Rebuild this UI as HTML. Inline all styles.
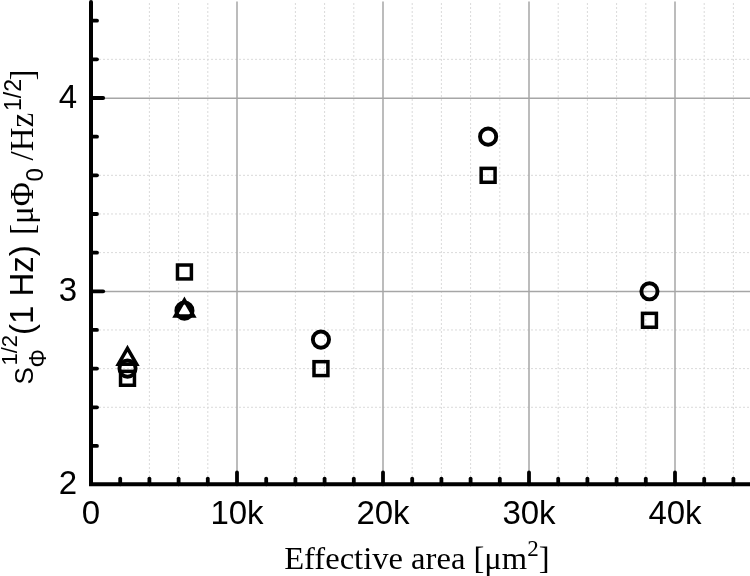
<!DOCTYPE html>
<html><head><meta charset="utf-8"><style>html,body{margin:0;padding:0;background:#fff;}svg{display:block;}</style></head><body>
<svg width="750" height="576" viewBox="0 0 750 576">
<rect width="750" height="576" fill="#fff"/>
<g stroke="#dadada" stroke-width="1" stroke-dasharray="2 2" fill="none"><line x1="149.40" y1="3" x2="149.40" y2="484.3"/><line x1="178.60" y1="3" x2="178.60" y2="484.3"/><line x1="207.80" y1="3" x2="207.80" y2="484.3"/><line x1="295.40" y1="3" x2="295.40" y2="484.3"/><line x1="324.60" y1="3" x2="324.60" y2="484.3"/><line x1="353.80" y1="3" x2="353.80" y2="484.3"/><line x1="412.20" y1="3" x2="412.20" y2="484.3"/><line x1="441.40" y1="3" x2="441.40" y2="484.3"/><line x1="470.60" y1="3" x2="470.60" y2="484.3"/><line x1="499.80" y1="3" x2="499.80" y2="484.3"/><line x1="558.20" y1="3" x2="558.20" y2="484.3"/><line x1="587.40" y1="3" x2="587.40" y2="484.3"/><line x1="616.60" y1="3" x2="616.60" y2="484.3"/><line x1="645.80" y1="3" x2="645.80" y2="484.3"/><line x1="704.20" y1="3" x2="704.20" y2="484.3"/><line x1="733.40" y1="3" x2="733.40" y2="484.3"/><line x1="91.0" y1="407.28" x2="750" y2="407.28"/><line x1="91.0" y1="368.62" x2="750" y2="368.62"/><line x1="91.0" y1="329.96" x2="750" y2="329.96"/><line x1="91.0" y1="252.64" x2="750" y2="252.64"/><line x1="91.0" y1="213.98" x2="750" y2="213.98"/><line x1="91.0" y1="175.32" x2="750" y2="175.32"/><line x1="91.0" y1="59.34" x2="750" y2="59.34"/></g>
<g stroke="#a6a6a6" stroke-width="1.5" fill="none"><line x1="237.0" y1="1.5" x2="237.0" y2="484.3"/><line x1="383.0" y1="1.5" x2="383.0" y2="484.3"/><line x1="529.0" y1="1.5" x2="529.0" y2="484.3"/><line x1="675.0" y1="1.5" x2="675.0" y2="484.3"/><line x1="91.0" y1="291.5" x2="750" y2="291.5"/><line x1="91.0" y1="98.2" x2="750" y2="98.2"/></g>
<g stroke="#000" stroke-width="3.8" stroke-linecap="round" fill="none"><line x1="120.20" y1="484.3" x2="120.20" y2="478.6"/><line x1="149.40" y1="484.3" x2="149.40" y2="478.6"/><line x1="178.60" y1="484.3" x2="178.60" y2="478.6"/><line x1="207.80" y1="484.3" x2="207.80" y2="478.6"/><line x1="237.00" y1="484.3" x2="237.00" y2="472.5"/><line x1="266.20" y1="484.3" x2="266.20" y2="478.6"/><line x1="295.40" y1="484.3" x2="295.40" y2="478.6"/><line x1="324.60" y1="484.3" x2="324.60" y2="478.6"/><line x1="353.80" y1="484.3" x2="353.80" y2="478.6"/><line x1="383.00" y1="484.3" x2="383.00" y2="472.5"/><line x1="412.20" y1="484.3" x2="412.20" y2="478.6"/><line x1="441.40" y1="484.3" x2="441.40" y2="478.6"/><line x1="470.60" y1="484.3" x2="470.60" y2="478.6"/><line x1="499.80" y1="484.3" x2="499.80" y2="478.6"/><line x1="529.00" y1="484.3" x2="529.00" y2="472.5"/><line x1="558.20" y1="484.3" x2="558.20" y2="478.6"/><line x1="587.40" y1="484.3" x2="587.40" y2="478.6"/><line x1="616.60" y1="484.3" x2="616.60" y2="478.6"/><line x1="645.80" y1="484.3" x2="645.80" y2="478.6"/><line x1="675.00" y1="484.3" x2="675.00" y2="472.5"/><line x1="704.20" y1="484.3" x2="704.20" y2="478.6"/><line x1="733.40" y1="484.3" x2="733.40" y2="478.6"/><line x1="91.0" y1="445.94" x2="97.0" y2="445.94"/><line x1="91.0" y1="407.28" x2="97.0" y2="407.28"/><line x1="91.0" y1="368.62" x2="97.0" y2="368.62"/><line x1="91.0" y1="329.96" x2="97.0" y2="329.96"/><line x1="91.0" y1="291.30" x2="103.2" y2="291.30"/><line x1="91.0" y1="252.64" x2="97.0" y2="252.64"/><line x1="91.0" y1="213.98" x2="97.0" y2="213.98"/><line x1="91.0" y1="175.32" x2="97.0" y2="175.32"/><line x1="91.0" y1="136.66" x2="97.0" y2="136.66"/><line x1="91.0" y1="98.00" x2="103.2" y2="98.00"/><line x1="91.0" y1="59.34" x2="97.0" y2="59.34"/><line x1="91.0" y1="20.68" x2="97.0" y2="20.68"/></g>
<path d="M91.0 2 L91.0 484.3 L750 484.3" stroke="#000" stroke-width="4" fill="none" stroke-linecap="round" stroke-linejoin="miter"/>
<g stroke="#000" fill="none" stroke-linejoin="miter"><rect x="120.55" y="371.34" width="13.90" height="13.90" stroke-width="3.5"/><circle cx="127.50" cy="368.62" r="8.1" stroke-width="3.9"/><polygon points="127.50,348.36 136.68,364.26 118.32,364.26" stroke-width="3.5"/><rect x="177.49" y="265.02" width="13.90" height="13.90" stroke-width="3.5"/><circle cx="184.44" cy="310.63" r="8.1" stroke-width="3.9"/><polygon points="184.44,300.03 193.62,315.93 175.26,315.93" stroke-width="3.5"/><rect x="314.00" y="361.67" width="13.90" height="13.90" stroke-width="3.5"/><circle cx="320.95" cy="339.62" r="8.1" stroke-width="3.9"/><rect x="481.17" y="168.37" width="13.90" height="13.90" stroke-width="3.5"/><circle cx="488.12" cy="136.66" r="8.1" stroke-width="3.9"/><rect x="642.50" y="313.34" width="13.90" height="13.90" stroke-width="3.5"/><circle cx="649.45" cy="291.30" r="8.1" stroke-width="3.9"/></g>
<g font-family="Liberation Sans, Arial, sans-serif" font-size="33" fill="#000"><text x="91.0" y="523.5" text-anchor="middle">0</text><text x="237.0" y="523.5" text-anchor="middle">10k</text><text x="383.0" y="523.5" text-anchor="middle">20k</text><text x="529.0" y="523.5" text-anchor="middle">30k</text><text x="675.0" y="523.5" text-anchor="middle">40k</text><text x="77.2" y="494.2" text-anchor="end">2</text><text x="77.2" y="300.9" text-anchor="end">3</text><text x="77.2" y="107.6" text-anchor="end">4</text></g>
<text x="284.2" y="568.6" font-family="Liberation Serif, Times New Roman, serif" font-size="32.6" fill="#000">Effective area [μm<tspan font-size="23" dy="-13">2</tspan><tspan dy="13">]</tspan></text>
<text transform="translate(33 384.5) rotate(-90)" font-family="Liberation Sans, Arial, sans-serif" font-size="26" fill="#000">S</text><text transform="translate(16.5 365.5) rotate(-90)" font-family="Liberation Sans, Arial, sans-serif" font-size="22" fill="#000">1/2</text><text transform="translate(46 367.5) rotate(-90)" font-family="Liberation Sans, Arial, sans-serif" font-size="23" fill="#000">Φ</text><text transform="translate(33 335) rotate(-90)" font-family="Liberation Sans, Arial, sans-serif" font-size="33" fill="#000">(1 Hz)</text><text transform="translate(33 235) rotate(-90)" font-family="Liberation Serif, Times New Roman, serif" font-size="33" fill="#000">[μΦ</text><text transform="translate(42.8 181.5) rotate(-90)" font-family="Liberation Sans, Arial, sans-serif" font-size="24" fill="#000">0</text><text transform="translate(33 160.5) rotate(-90)" font-family="Liberation Serif, Times New Roman, serif" font-size="33" fill="#000">/Hz</text><text transform="translate(20.7 111) rotate(-90)" font-family="Liberation Sans, Arial, sans-serif" font-size="23" fill="#000">1/2</text><text transform="translate(33 80.5) rotate(-90)" font-family="Liberation Serif, Times New Roman, serif" font-size="33" fill="#000">]</text>
</svg>
</body></html>
